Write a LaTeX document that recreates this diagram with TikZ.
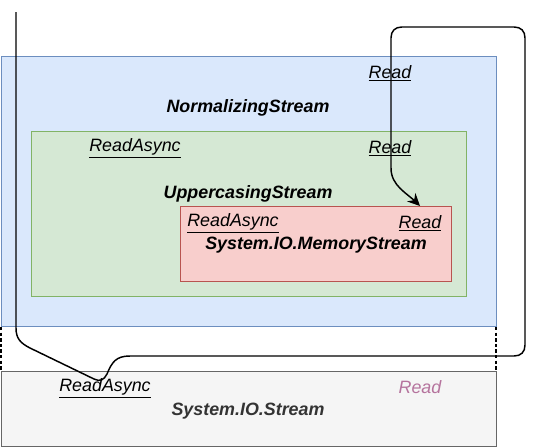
\documentclass[tikz,border=0pt]{standalone}
\usepackage{fontspec}
\setmainfont{Liberation Sans}

\tikzset{every picture/.style={line width=0.75pt}}
\tikzset{
  methodlabel/.style={font=\fontsize{13.4}{15}\selectfont\itshape},
  streamtitle/.style={font=\fontsize{13.4}{15}\selectfont\bfseries\itshape}
}

\begin{document}
\begin{tikzpicture}[x=0.75pt,y=0.75pt,yscale=-1,xscale=1]
	\useasboundingbox (0,0) rectangle (539,447); %diagram is 539 by 447

	%Shape: Rectangle [id:normalizing]
	\draw  [draw={rgb, 255:red, 108; green, 142; blue, 191 }  ,fill={rgb, 255:red, 218; green, 232; blue, 252 }  ,fill opacity=1 ] (1,56) -- (496,56) -- (496,326) -- (1,326) -- cycle ;
	%Shape: Rectangle [id:uppercasing]
	\draw  [draw={rgb, 255:red, 130; green, 179; blue, 102 }  ,fill={rgb, 255:red, 213; green, 232; blue, 212 }  ,fill opacity=1 ] (31,131) -- (466,131) -- (466,296) -- (31,296) -- cycle ;
	%Shape: Rectangle [id:memory]
	\draw  [draw={rgb, 255:red, 184; green, 84; blue, 80 }  ,fill={rgb, 255:red, 248; green, 206; blue, 204 }  ,fill opacity=1 ] (180,206) -- (451,206) -- (451,281) -- (180,281) -- cycle ;
	%Shape: Rectangle [id:stream]
	\draw  [draw={rgb, 255:red, 102; green, 102; blue, 102 }  ,fill={rgb, 255:red, 245; green, 245; blue, 245 }  ,fill opacity=1 ] (1,371) -- (496,371) -- (496,446) -- (1,446) -- cycle ;
	%Straight Lines [id:dashleft]
	\draw  [line width=1.1pt, dash pattern={on 2.5pt off 1.7pt}]  (1,327) -- (1,370) ;
	%Straight Lines [id:dashright]
	\draw  [line width=1.1pt, dash pattern={on 2.5pt off 1.7pt}]  (496,327) -- (496,370) ;

	% Text Node
	\draw (390,73) node [methodlabel] (normread) {\underline{Read}};
	% Text Node
	\draw (248,108) node [streamtitle] (normtitle) {NormalizingStream};
	% Text Node
	\draw (135,148) node [methodlabel] (upperasync) {\underline{ReadAsync}};
	% Text Node
	\draw (390,148) node [methodlabel] (upperread) {\underline{Read}};
	% Text Node
	\draw (248,194) node [streamtitle] (uppertitle) {UppercasingStream};
	% Text Node
	\draw (233,223) node [methodlabel] (memasync) {\underline{ReadAsync}};
	% Text Node
	\draw (420,223) node [methodlabel] (memread) {\underline{Read}};
	% Text Node
	\draw (316,245) node [streamtitle] (memtitle) {System.IO.MemoryStream};
	% Text Node
	\draw (105,388) node [methodlabel] (baseasync) {\underline{ReadAsync}};
	% Text Node
	\draw (420,387) node [methodlabel, text={rgb, 255:red, 181; green, 115; blue, 157 }] (baseread) {Read};
	% Text Node
	\draw (248,411) node [streamtitle, text={rgb, 255:red, 51; green, 51; blue, 51 }] (basetitle) {System.IO.Stream};

	\coordinate (callstart) at (16,12);
	\coordinate (readtip) at (420,206);
	%Curve Lines [id:callpath]
	\draw  [line width=1.1pt]  (callstart) -- (16,328) .. controls (16,338) and (20,343) .. (30,348) -- (94,379) .. controls (100,382) and (104,380) .. (107,374) .. controls (112,362) and (116,356) .. (130,356) -- (514,356) .. controls (521,356) and (525,352) .. (525,345) -- (525,38) .. controls (525,31) and (521,27) .. (514,27) -- (402,27) .. controls (395,27) and (391,31) .. (391,38) -- (391,168) .. controls (391,186) and (407,193) .. (417,203) ;
	\draw [shift={(readtip)}, rotate = 225] [fill={rgb, 255:red, 0; green, 0; blue, 0 }  ][line width=0.08]  [draw opacity=0] (12.5,-6) -- (0,0) -- (12.5,6) -- (8.3,0) -- cycle    ;

\end{tikzpicture}
\end{document}
